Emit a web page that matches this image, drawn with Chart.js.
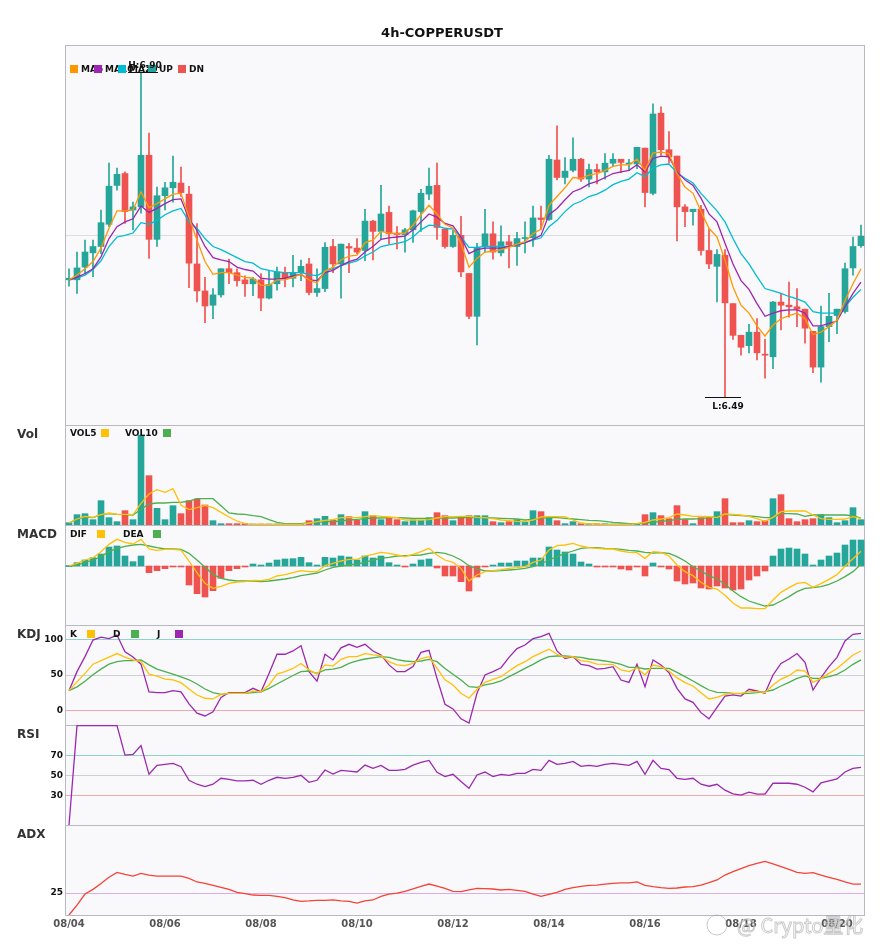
<!DOCTYPE html>
<html>
<head>
<meta charset="utf-8">
<title>4h-COPPERUSDT</title>
<script src="https://cdn.jsdelivr.net/npm/chart.js@4.4.0/dist/chart.umd.min.js"></script>
<style>
  html, body { margin: 0; padding: 0; background: #ffffff; }
  #wrap { position: relative; width: 885px; height: 950px; }
</style>
</head>
<body>
<div id="wrap"><canvas id="kline"></canvas></div>
<script>
// ---- data (4h candles, 08/04 00:00 onwards) ----
const days = ['08/04', '08/05', '08/06', '08/07', '08/08', '08/09', '08/10', '08/11', '08/12',
  '08/13', '08/14', '08/15', '08/16', '08/17', '08/18', '08/19', '08/20'];
const hours = ['00:00', '04:00', '08:00', '12:00', '16:00', '20:00'];

const opens = [
  6.638, 6.638, 6.654, 6.672, 6.680, 6.708, 6.757, 6.772, 6.726, 6.730,
  6.795, 6.689, 6.744, 6.754, 6.760, 6.746, 6.658, 6.624, 6.606, 6.619,
  6.652, 6.647, 6.638, 6.633, 6.638, 6.615, 6.633, 6.647, 6.640, 6.647,
  6.658, 6.622, 6.627, 6.680, 6.658, 6.680, 6.678, 6.675, 6.712, 6.699,
  6.723, 6.697, 6.695, 6.701, 6.724, 6.746, 6.757, 6.702, 6.680, 6.694,
  6.646, 6.592, 6.680, 6.696, 6.672, 6.686, 6.680, 6.690, 6.691, 6.716,
  6.714, 6.789, 6.767, 6.776, 6.790, 6.765, 6.777, 6.774, 6.785, 6.790,
  6.784, 6.784, 6.804, 6.747, 6.848, 6.802, 6.794, 6.730, 6.724, 6.727,
  6.675, 6.655, 6.669, 6.608, 6.568, 6.555, 6.572, 6.544, 6.541, 6.610,
  6.606, 6.604, 6.601, 6.573, 6.528, 6.579, 6.593, 6.598, 6.653, 6.681
];
const highs = [
  6.652, 6.673, 6.688, 6.688, 6.726, 6.785, 6.779, 6.774, 6.736, 6.900,
  6.823, 6.755, 6.761, 6.794, 6.780, 6.756, 6.709, 6.641, 6.627, 6.652,
  6.664, 6.652, 6.643, 6.641, 6.646, 6.650, 6.654, 6.654, 6.669, 6.663,
  6.665, 6.652, 6.685, 6.689, 6.683, 6.684, 6.690, 6.727, 6.713, 6.757,
  6.731, 6.705, 6.703, 6.726, 6.752, 6.779, 6.785, 6.703, 6.700, 6.718,
  6.646, 6.684, 6.727, 6.711, 6.706, 6.694, 6.698, 6.711, 6.731, 6.731,
  6.795, 6.832, 6.792, 6.817, 6.791, 6.784, 6.784, 6.797, 6.797, 6.790,
  6.790, 6.805, 6.804, 6.860, 6.856, 6.825, 6.794, 6.733, 6.727, 6.732,
  6.702, 6.676, 6.676, 6.608, 6.568, 6.582, 6.589, 6.563, 6.611, 6.621,
  6.635, 6.627, 6.601, 6.573, 6.605, 6.621, 6.601, 6.659, 6.692, 6.707
];
const lows = [
  6.630, 6.621, 6.646, 6.642, 6.671, 6.705, 6.751, 6.709, 6.701, 6.722,
  6.665, 6.680, 6.726, 6.736, 6.743, 6.628, 6.610, 6.584, 6.589, 6.616,
  6.633, 6.630, 6.617, 6.618, 6.599, 6.614, 6.625, 6.629, 6.629, 6.637,
  6.619, 6.617, 6.623, 6.647, 6.615, 6.647, 6.671, 6.662, 6.663, 6.689,
  6.683, 6.677, 6.673, 6.685, 6.699, 6.739, 6.689, 6.678, 6.679, 6.642,
  6.589, 6.556, 6.673, 6.664, 6.668, 6.653, 6.656, 6.672, 6.680, 6.702,
  6.713, 6.764, 6.759, 6.774, 6.762, 6.755, 6.759, 6.765, 6.781, 6.773,
  6.776, 6.778, 6.730, 6.745, 6.795, 6.785, 6.687, 6.705, 6.707, 6.669,
  6.652, 6.610, 6.490, 6.563, 6.543, 6.546, 6.537, 6.514, 6.526, 6.575,
  6.591, 6.579, 6.558, 6.521, 6.509, 6.560, 6.570, 6.596, 6.644, 6.679
];
const closes = [
  6.640, 6.653, 6.673, 6.680, 6.710, 6.756, 6.771, 6.724, 6.730, 6.795,
  6.689, 6.744, 6.754, 6.761, 6.748, 6.659, 6.624, 6.605, 6.619, 6.652,
  6.647, 6.637, 6.633, 6.639, 6.615, 6.632, 6.648, 6.640, 6.647, 6.655,
  6.622, 6.627, 6.679, 6.658, 6.683, 6.678, 6.673, 6.712, 6.699, 6.721,
  6.696, 6.695, 6.701, 6.725, 6.747, 6.756, 6.704, 6.680, 6.694, 6.648,
  6.592, 6.679, 6.696, 6.673, 6.686, 6.682, 6.690, 6.691, 6.716, 6.714,
  6.790, 6.767, 6.775, 6.790, 6.765, 6.777, 6.774, 6.785, 6.790, 6.786,
  6.785, 6.805, 6.748, 6.847, 6.802, 6.793, 6.730, 6.724, 6.727, 6.675,
  6.658, 6.670, 6.609, 6.568, 6.553, 6.572, 6.546, 6.543, 6.610, 6.606,
  6.604, 6.601, 6.577, 6.528, 6.579, 6.592, 6.601, 6.652, 6.680, 6.693
];

const ma5 = [
  6.638, 6.644, 6.652, 6.661, 6.678, 6.703, 6.725, 6.725, 6.726, 6.749,
  6.729, 6.734, 6.740, 6.746, 6.747, 6.717, 6.688, 6.661, 6.645, 6.647,
  6.647, 6.644, 6.641, 6.640, 6.631, 6.631, 6.638, 6.638, 6.641, 6.645,
  6.638, 6.634, 6.649, 6.654, 6.663, 6.668, 6.669, 6.685, 6.688, 6.699,
  6.697, 6.696, 6.697, 6.707, 6.720, 6.732, 6.721, 6.708, 6.703, 6.684,
  6.654, 6.665, 6.673, 6.674, 6.676, 6.679, 6.683, 6.686, 6.696, 6.702,
  6.732, 6.743, 6.754, 6.767, 6.766, 6.770, 6.772, 6.776, 6.781, 6.783,
  6.783, 6.790, 6.776, 6.798, 6.799, 6.797, 6.772, 6.755, 6.747, 6.724,
  6.703, 6.692, 6.663, 6.629, 6.606, 6.596, 6.580, 6.567, 6.581, 6.589,
  6.593, 6.596, 6.589, 6.569, 6.572, 6.579, 6.587, 6.612, 6.633, 6.652
];
const ma10 = [
  6.638, 6.641, 6.646, 6.652, 6.667, 6.690, 6.705, 6.711, 6.715, 6.731,
  6.723, 6.728, 6.734, 6.739, 6.740, 6.715, 6.700, 6.680, 6.666, 6.663,
  6.661, 6.654, 6.651, 6.649, 6.640, 6.639, 6.639, 6.640, 6.643, 6.645,
  6.638, 6.637, 6.647, 6.650, 6.656, 6.661, 6.664, 6.673, 6.680, 6.689,
  6.691, 6.692, 6.693, 6.701, 6.711, 6.721, 6.717, 6.709, 6.706, 6.692,
  6.671, 6.676, 6.678, 6.678, 6.678, 6.680, 6.682, 6.685, 6.689, 6.694,
  6.720, 6.728, 6.739, 6.749, 6.753, 6.759, 6.762, 6.767, 6.772, 6.774,
  6.776, 6.783, 6.774, 6.791, 6.794, 6.793, 6.774, 6.764, 6.757, 6.741,
  6.721, 6.711, 6.684, 6.658, 6.637, 6.626, 6.608, 6.592, 6.596, 6.599,
  6.600, 6.600, 6.596, 6.580, 6.580, 6.583, 6.586, 6.604, 6.621, 6.635
];
const ma20 = [
  6.638, 6.640, 6.644, 6.651, 6.662, 6.680, 6.692, 6.694, 6.697, 6.710,
  6.708, 6.713, 6.720, 6.725, 6.728, 6.711, 6.703, 6.690, 6.680, 6.676,
  6.671, 6.666, 6.661, 6.659, 6.652, 6.650, 6.648, 6.647, 6.647, 6.647,
  6.645, 6.643, 6.649, 6.652, 6.656, 6.659, 6.662, 6.668, 6.673, 6.680,
  6.682, 6.684, 6.686, 6.692, 6.701, 6.707, 6.706, 6.703, 6.702, 6.692,
  6.679, 6.679, 6.680, 6.680, 6.680, 6.680, 6.682, 6.685, 6.688, 6.691,
  6.705, 6.713, 6.724, 6.733, 6.737, 6.743, 6.746, 6.751, 6.758, 6.762,
  6.765, 6.773, 6.768, 6.779, 6.783, 6.784, 6.773, 6.766, 6.760, 6.747,
  6.736, 6.725, 6.711, 6.690, 6.671, 6.658, 6.642, 6.627, 6.624, 6.621,
  6.617, 6.614, 6.610, 6.598, 6.596, 6.596, 6.596, 6.604, 6.616, 6.626
];

const volumes = [
  70, 310, 340, 160, 730, 220, 100, 430, 160, 2700,
  1480, 500, 160, 580, 340, 730, 780, 600, 130, 40,
  40, 40, 40, 20, 30, 20, 10, 20, 20, 10,
  130, 190, 260, 150, 310, 250, 140, 400, 280, 160,
  220, 160, 100, 160, 140, 220, 370, 280, 130, 230,
  280, 280, 280, 100, 70, 100, 160, 80, 430, 400,
  220, 130, 40, 100, 40, 40, 40, 40, 30, 30,
  30, 30, 310, 370, 280, 190, 580, 160, 40, 220,
  220, 400, 790, 70, 70, 130, 100, 130, 790, 910,
  190, 100, 160, 190, 310, 220, 70, 130, 520, 160
];
const vol5 = [
  60, 180, 260, 230, 310, 360, 320, 320, 310, 650,
  930, 1060, 980, 1090, 600, 460, 520, 590, 520, 380,
  240, 120, 40, 20, 20, 20, 20, 20, 20, 20,
  60, 100, 140, 160, 220, 220, 220, 250, 280, 260,
  240, 220, 150, 150, 150, 160, 210, 250, 250, 260,
  260, 230, 220, 190, 150, 130, 110, 100, 150, 240,
  250, 250, 250, 150, 60, 30, 30, 20, 20, 20,
  20, 40, 80, 150, 180, 220, 330, 300, 260, 260,
  250, 220, 330, 320, 300, 260, 190, 110, 230, 400,
  420, 420, 420, 300, 190, 170, 170, 180, 250, 190
];
const vol10 = [
  60, 180, 240, 220, 310, 340, 320, 310, 300, 470,
  630, 660, 660, 680, 680, 720, 790, 790, 790, 580,
  360, 330, 320, 280, 250, 160, 80, 40, 40, 40,
  60, 80, 100, 100, 120, 150, 170, 190, 210, 210,
  220, 220, 210, 200, 200, 200, 210, 210, 210, 220,
  220, 220, 220, 210, 200, 190, 180, 150, 170, 200,
  230, 220, 200, 180, 160, 140, 130, 110, 80, 60,
  40, 40, 60, 80, 110, 130, 170, 180, 180, 190,
  220, 250, 320, 300, 280, 270, 250, 220, 220, 340,
  340, 330, 260, 300, 300, 300, 300, 300, 280, 210
];

const macdDif = [
  0.0000, 0.0008, 0.0018, 0.0025, 0.0043, 0.0065, 0.0080, 0.0071, 0.0066, 0.0080,
  0.0051, 0.0047, 0.0050, 0.0050, 0.0048, 0.0015, -0.0020, -0.0052, -0.0067, -0.0061,
  -0.0052, -0.0048, -0.0047, -0.0043, -0.0044, -0.0040, -0.0030, -0.0026, -0.0020, -0.0014,
  -0.0017, -0.0017, 0.0001, 0.0008, 0.0015, 0.0020, 0.0020, 0.0030, 0.0035, 0.0041,
  0.0038, 0.0033, 0.0028, 0.0035, 0.0043, 0.0053, 0.0033, 0.0018, 0.0011, -0.0007,
  -0.0045, -0.0027, -0.0017, -0.0014, -0.0011, -0.0007, -0.0005, -0.0002, 0.0011, 0.0018,
  0.0048, 0.0061, 0.0063, 0.0068, 0.0060, 0.0055, 0.0053, 0.0051, 0.0051, 0.0045,
  0.0041, 0.0040, 0.0023, 0.0043, 0.0041, 0.0030, 0.0003, -0.0017, -0.0029, -0.0049,
  -0.0064, -0.0069, -0.0088, -0.0111, -0.0126, -0.0126, -0.0128, -0.0128, -0.0102, -0.0079,
  -0.0065, -0.0052, -0.0049, -0.0064, -0.0053, -0.0040, -0.0026, -0.0001, 0.0022, 0.0044
];
const macdDea = [
  0.0000, 0.0003, 0.0011, 0.0018, 0.0028, 0.0043, 0.0053, 0.0059, 0.0063, 0.0065,
  0.0060, 0.0055, 0.0051, 0.0051, 0.0050, 0.0038, 0.0018, -0.0004, -0.0025, -0.0037,
  -0.0042, -0.0045, -0.0045, -0.0045, -0.0047, -0.0045, -0.0042, -0.0039, -0.0035, -0.0029,
  -0.0025, -0.0021, -0.0012, -0.0004, 0.0000, 0.0003, 0.0006, 0.0011, 0.0018, 0.0023,
  0.0026, 0.0030, 0.0031, 0.0032, 0.0033, 0.0038, 0.0041, 0.0038, 0.0030, 0.0018,
  0.0001, -0.0009, -0.0015, -0.0015, -0.0014, -0.0012, -0.0010, -0.0007, -0.0002, 0.0006,
  0.0018, 0.0028, 0.0038, 0.0045, 0.0053, 0.0055, 0.0055, 0.0053, 0.0052, 0.0050,
  0.0047, 0.0045, 0.0041, 0.0039, 0.0040, 0.0038, 0.0028, 0.0015, -0.0002, -0.0015,
  -0.0029, -0.0039, -0.0055, -0.0075, -0.0092, -0.0105, -0.0113, -0.0120, -0.0117, -0.0105,
  -0.0092, -0.0077, -0.0067, -0.0065, -0.0062, -0.0055, -0.0045, -0.0032, -0.0017, 0.0005
];
const macdHist = [
  0.0000, 0.0010, 0.0018, 0.0025, 0.0036, 0.0057, 0.0060, 0.0030, 0.0013, 0.0030,
  -0.0020, -0.0014, -0.0008, -0.0003, -0.0003, -0.0057, -0.0083, -0.0093, -0.0074, -0.0037,
  -0.0014, -0.0008, -0.0003, 0.0006, 0.0003, 0.0009, 0.0018, 0.0021, 0.0022, 0.0026,
  0.0010, 0.0003, 0.0026, 0.0024, 0.0030, 0.0027, 0.0018, 0.0030, 0.0024, 0.0030,
  0.0010, 0.0001, -0.0002, 0.0006, 0.0018, 0.0021, -0.0006, -0.0030, -0.0030, -0.0047,
  -0.0075, -0.0033, -0.0001, 0.0003, 0.0009, 0.0009, 0.0015, 0.0015, 0.0024, 0.0024,
  0.0057, 0.0048, 0.0042, 0.0036, 0.0012, 0.0006, -0.0003, -0.0003, -0.0003, -0.0009,
  -0.0012, -0.0002, -0.0030, 0.0009, -0.0001, -0.0009, -0.0045, -0.0054, -0.0051, -0.0066,
  -0.0069, -0.0060, -0.0066, -0.0072, -0.0069, -0.0042, -0.0030, -0.0015, 0.0030, 0.0051,
  0.0054, 0.0051, 0.0036, 0.0003, 0.0018, 0.0030, 0.0039, 0.0063, 0.0078, 0.0078
];

const kdjK = [
  27.7, 40, 52, 65, 70, 75, 80, 75, 71, 68.5,
  51, 48, 44, 43, 39, 30, 21.6, 17, 16, 22.5,
  24, 24, 24, 27, 26, 35.7, 51, 54.5, 59, 66,
  57, 51, 64, 62.4, 71.8, 75.6, 75.6, 79.8, 78, 77,
  68.5, 64, 63, 66, 73, 75.6, 59, 43, 35.7, 24,
  17, 29.6, 39.4, 43.7, 47.4, 55.4, 63, 68.5, 75.6, 81,
  86, 79, 74.6, 75.6, 70, 68.5, 65, 64.8, 64.8, 56.8,
  54.5, 60, 49.8, 63.8, 61.5, 55.4, 46, 39, 34.3, 24.9,
  16, 18.3, 22.5, 24, 24, 26.3, 26.3, 24.9, 35.7, 44,
  48.8, 56.8, 55.4, 39.4, 45, 52, 59, 68.5, 78, 83.6
];
const kdjD = [
  27.7, 33, 41, 50, 58, 65, 68.5, 70, 70, 71,
  64, 58, 54.5, 51, 47, 43, 37, 30, 25, 22.5,
  24, 24, 24, 25, 26, 31, 37, 43, 49, 54.5,
  55.4, 52, 57, 58, 60.6, 66, 69.5, 72.3, 74, 75.6,
  74.6, 71.4, 69.5, 68.5, 69.5, 71.8, 68.5, 59, 50.7, 42.7,
  33.3, 32.4, 35.7, 38, 41.3, 47.4, 53, 59, 64.8, 71,
  75.6, 76.5, 76.5, 75.6, 74.6, 72.3, 71, 69.5, 67.6, 64.8,
  60.6, 60.6, 58.2, 59, 59, 59, 53.5, 47.4, 41.3, 34.7,
  28.6, 25.4, 24.9, 24, 23.5, 24, 24.9, 26.3, 28.6, 34.3,
  39.4, 45, 48.4, 45, 45, 47.4, 50.7, 56.8, 64.8, 71
];
const kdjJ = [
  27.7, 54.5, 75.6, 99, 103, 101, 106, 82.6, 75, 65,
  26, 25, 25, 27.7, 26, 9, -4, -8, -2, 18,
  25, 25, 25, 31, 26, 52, 79, 79, 83.6, 91,
  54.5, 41, 79, 71, 88, 93, 88.7, 93, 83.6, 78,
  64, 54.5, 54.5, 61.5, 81.7, 84.5, 45, 8.5, 1.9, -12,
  -18, 24, 49.8, 54.5, 60, 74.6, 87, 92, 101, 103.8,
  108.5, 83.6, 73, 75.6, 64.8, 63, 58, 59, 61.5, 42.7,
  39.4, 64.8, 33.3, 71, 63.8, 53, 31, 16, 11.3, -3.3,
  -12, 4.2, 20, 21.6, 20, 29.6, 27.2, 24, 49.8, 66,
  72.3, 80, 67.6, 28.6, 46, 61.5, 74.6, 97.7, 107, 108.5
];

const rsi = [
  0, 100, 100, 100, 100, 100, 100, 70.3, 71, 80,
  51, 60, 61, 62, 58.7, 45, 41, 38.7, 41, 47,
  46, 44.3, 44.3, 45, 41, 45, 48, 47, 48, 50,
  43, 45, 55.3, 51.3, 55, 54.3, 53.3, 60.3, 57, 60,
  55, 55, 56, 60.3, 63, 65, 53, 48.7, 51, 43.7,
  37, 50.3, 53.3, 48.7, 51, 50, 52, 52, 56, 55,
  65, 61, 62, 64, 59, 60, 59, 61, 62, 61,
  60, 64, 51, 65, 57, 55.7, 47, 46, 47, 41,
  39, 41, 35, 31.3, 30, 33, 31, 31, 42, 42,
  42, 41, 38, 33.3, 42.3, 44.3, 46.3, 53.3, 57, 58
];
const adx = [
  0, 11, 23.3, 28.5, 35, 41.9, 47.4, 45.2, 43.3, 46.3,
  44.4, 43.3, 43.3, 43.3, 43.3, 40.7, 36.7, 35.2, 33, 30.7,
  28.5, 25.2, 23.7, 22.2, 21.9, 21.9, 20.7, 19.3, 16.7, 15.2,
  15.6, 16.3, 16.3, 16.7, 15.6, 15.2, 13.3, 15.6, 16.7, 20.7,
  23.3, 24.4, 26.3, 28.9, 31.9, 34.4, 32.2, 29.6, 26.3, 25.9,
  27.8, 29.6, 29.3, 28.9, 27.8, 28.5, 27.4, 26.3, 23.3, 20.7,
  23, 25.2, 28.5, 30.4, 31.9, 33, 33.3, 34.4, 35.2, 35.6,
  35.6, 36.7, 33, 31.5, 30.4, 29.6, 30, 31.1, 31.5, 33.3,
  35.9, 38.9, 44.4, 48.1, 51.5, 54.8, 57.4, 59.6, 56.7, 53.7,
  50.7, 47.4, 46.3, 47, 44.4, 41.9, 39.6, 36.7, 34.4, 34.4
];

// ---- styling ----
const UP = '#26a69a', DN = '#ef5350';
const ORANGE = '#ff9800', PURPLE = '#9c27b0', CYAN = '#00bcd4';
const YELLOW = '#ffc107', GREEN = '#4caf50', ADXRED = '#f44336';
const FONT = "'DejaVu Sans', 'Liberation Sans', sans-serif";
const priceMin = 6.455, priceMax = 6.934;

Chart.defaults.font.family = FONT;

const categories = days.flatMap(d => hours.map(h => d + ' ' + h)).slice(0, closes.length);
const candleColors = closes.map((c, i) => (c >= opens[i] ? UP : DN));
const histColors = macdHist.map(v => (v >= 0 ? UP : DN));

function fixWidth(scale) {
    scale.width = 65;
    scale.paddingTop = 0;
    scale.paddingBottom = 0;
}

function panelAxis(stackWeight, weight, min, max, tickValues) {
    const axis = {
        type: 'linear',
        position: 'left',
        stack: 'panels',
        stackWeight: stackWeight,
        weight: weight,
        min: min,
        max: max,
        grid: { display: false, drawTicks: false },
        border: { display: false },
        ticks: { display: false },
        afterFit: fixWidth
    };
    if (tickValues) {
        axis.ticks = { display: true, padding: 2, color: '#111', font: { size: 9, weight: 'bold' } };
        axis.afterBuildTicks = s => { s.ticks = tickValues.map(v => ({ value: v })); };
    }
    return axis;
}

function line(label, data, color, axisId) {
    return {
        type: 'line', label: label, data: data, yAxisID: axisId,
        borderColor: color, borderWidth: 1.3, pointRadius: 0, tension: 0,
        fill: false, order: 0
    };
}

function bars(label, data, colors, axisId, thickness, order) {
    return {
        type: 'bar', label: label, data: data, yAxisID: axisId,
        backgroundColor: colors, barThickness: thickness, grouped: false,
        minBarLength: 1, order: order
    };
}

// reference lines per panel: [axis, value, colour]
const refLines = [
    ['yP', (priceMin + priceMax) / 2, '#dcdce0'],
    ['yM', 0, '#d4d4d8'],
    ['yK', 100, '#8fd4cc'], ['yK', 50, '#cfcfd3'], ['yK', 0, '#f3a9a9'],
    ['yR', 70, '#8fd4cc'], ['yR', 50, '#cfcfd3'], ['yR', 30, '#f3a9a9'],
    ['yA', 25, '#dcaee6']
];

const panelTitles = [['yV', 'Vol'], ['yM', 'MACD'], ['yK', 'KDJ'], ['yR', 'RSI'], ['yA', 'ADX']];

// legend items: text position, box position
const legends = [
    { y: 69, boxFirst: true, items: [
        { text: 'MA5', tx: 81, bx: 70, color: ORANGE },
        { text: 'MA10', tx: 105, bx: 94, color: PURPLE },
        { text: 'MA20', tx: 129, bx: 118, color: CYAN },
        { text: 'UP', tx: 159, bx: 148, color: UP },
        { text: 'DN', tx: 189, bx: 178, color: DN }] },
    { y: 433, items: [
        { text: 'VOL5', tx: 70, bx: 101, color: YELLOW },
        { text: 'VOL10', tx: 125, bx: 163, color: GREEN }] },
    { y: 534, items: [
        { text: 'DIF', tx: 70, bx: 97, color: YELLOW },
        { text: 'DEA', tx: 123, bx: 153, color: GREEN }] },
    { y: 634, items: [
        { text: 'K', tx: 70, bx: 87, color: YELLOW },
        { text: 'D', tx: 113, bx: 131, color: GREEN },
        { text: 'J', tx: 157, bx: 175, color: PURPLE }] }
];

const panelPlugin = {
    id: 'panels',
    beforeDatasetsDraw(chart) {
        const ctx = chart.ctx;
        const a = chart.chartArea;
        ctx.save();
        ctx.fillStyle = '#f9f9fb';
        ctx.fillRect(a.left, a.top, a.right - a.left, a.bottom - a.top);
        ctx.lineWidth = 1;
        refLines.forEach(([id, value, color]) => {
            const y = Math.round(chart.scales[id].getPixelForValue(value)) + 0.5;
            ctx.strokeStyle = color;
            ctx.beginPath();
            ctx.moveTo(a.left, y);
            ctx.lineTo(a.right, y);
            ctx.stroke();
        });
        // panel frames (under the series, as in the original)
        ctx.strokeStyle = '#b9b9c1';
        ['yP', 'yV', 'yM', 'yK', 'yR', 'yA'].forEach(id => {
            const s = chart.scales[id];
            ctx.strokeRect(a.left + 0.5, Math.round(s.top) + 0.5, a.right - a.left - 1, Math.round(s.bottom - s.top));
        });
        ctx.restore();
    },
    afterDatasetsDraw(chart) {
        const ctx = chart.ctx;
        const xs = chart.scales.x;
        const yP = chart.scales.yP;
        ctx.save();

        // legends
        ctx.font = 'bold 9px ' + FONT;
        ctx.textBaseline = 'middle';
        ctx.textAlign = 'left';
        legends.forEach(lg => {
            lg.items.forEach(it => {
                if (lg.boxFirst) {
                    ctx.fillStyle = it.color;
                    ctx.fillRect(it.bx, lg.y - 4, 8, 8);
                    ctx.fillStyle = '#111';
                    ctx.fillText(it.text, it.tx, lg.y + 0.5);
                } else {
                    ctx.fillStyle = '#111';
                    ctx.fillText(it.text, it.tx, lg.y + 0.5);
                    ctx.fillStyle = it.color;
                    ctx.fillRect(it.bx, lg.y - 4, 8, 8);
                }
            });
        });

        // high / low marks
        const hiIdx = highs.indexOf(Math.max(...highs));
        const loIdx = lows.indexOf(Math.min(...lows));
        ctx.strokeStyle = '#111';
        ctx.fillStyle = '#111';
        ctx.lineWidth = 1;
        ctx.textAlign = 'center';
        let x = xs.getPixelForValue(hiIdx);
        let y = Math.round(yP.getPixelForValue(highs[hiIdx])) + 0.5;
        ctx.beginPath(); ctx.moveTo(x - 13, y); ctx.lineTo(x + 17, y); ctx.stroke();
        ctx.textBaseline = 'bottom';
        ctx.fillText('H:' + highs[hiIdx].toFixed(2), x + 4, y - 2);
        x = xs.getPixelForValue(loIdx);
        y = Math.round(yP.getPixelForValue(lows[loIdx])) + 0.5;
        ctx.beginPath(); ctx.moveTo(x - 20, y); ctx.lineTo(x + 16, y); ctx.stroke();
        ctx.textBaseline = 'top';
        ctx.fillText('L:' + lows[loIdx].toFixed(2), x + 3, y + 5);
        ctx.restore();
    },
    afterDraw(chart) {
        const ctx = chart.ctx;
        ctx.save();
        // title
        ctx.fillStyle = '#111';
        ctx.font = 'bold 13px ' + FONT;
        ctx.textAlign = 'center';
        ctx.textBaseline = 'middle';
        ctx.fillText('4h-COPPERUSDT', 442, 34);
        // panel names
        ctx.fillStyle = '#333';
        ctx.font = 'bold 12px ' + FONT;
        ctx.textAlign = 'left';
        panelTitles.forEach(([id, text]) => {
            ctx.fillText(text, 17, chart.scales[id].top + 10);
        });
        // watermark
        ctx.font = '20px "Noto Sans CJK SC", ' + FONT;
        ctx.textBaseline = 'middle';
        ctx.lineWidth = 1;
        ctx.strokeStyle = 'rgba(150,150,150,0.5)';
        ctx.fillStyle = 'rgba(255,255,255,0.55)';
        ctx.fillText('@ Crypto量化', 737, 925);
        ctx.strokeText('@ Crypto量化', 737, 925);
        ctx.beginPath();
        ctx.arc(717, 925, 10, 0, Math.PI * 2);
        ctx.stroke();
        ctx.restore();
    }
};

new Chart(document.getElementById('kline'), {
    type: 'bar',
    data: {
        labels: categories,
        datasets: [
            bars('body', opens.map((o, i) => [o, closes[i]]), candleColors, 'yP', 6, 1),
            bars('wick', lows.map((l, i) => [l, highs[i]]), candleColors, 'yP', 1, 2),
            line('MA5', ma5, ORANGE, 'yP'),
            line('MA10', ma10, PURPLE, 'yP'),
            line('MA20', ma20, CYAN, 'yP'),
            bars('Vol', volumes, candleColors, 'yV', 6, 1),
            line('VOL5', vol5, YELLOW, 'yV'),
            line('VOL10', vol10, GREEN, 'yV'),
            bars('MACD', macdHist, histColors, 'yM', 6, 1),
            line('DIF', macdDif, YELLOW, 'yM'),
            line('DEA', macdDea, GREEN, 'yM'),
            line('K', kdjK, YELLOW, 'yK'),
            line('D', kdjD, GREEN, 'yK'),
            line('J', kdjJ, PURPLE, 'yK'),
            line('RSI', rsi, PURPLE, 'yR'),
            line('ADX', adx, ADXRED, 'yA')
        ]
    },
    options: {
        responsive: true,
        maintainAspectRatio: false,
        animation: false,
        layout: { padding: { left: 0, right: 20, top: 45, bottom: 0 } },
        plugins: {
            legend: { display: false },
            tooltip: { enabled: false },
            title: { display: false }
        },
        scales: {
            x: {
                type: 'category',
                offset: true,
                grid: { display: false, drawTicks: false },
                border: { display: false },
                ticks: {
                    autoSkip: false,
                    maxRotation: 0,
                    padding: 3,
                    color: '#555',
                    font: { size: 10, weight: 'bold' },
                    callback: (v, i) => (i % 12 === 0 ? categories[i].slice(0, 5) : null)
                },
                afterFit: s => { s.height = 35; s.paddingLeft = 0; s.paddingRight = 0; }
            },
            yP: panelAxis(380, 6, priceMin, priceMax),
            yV: panelAxis(100, 5, 0, 3000),
            yM: panelAxis(100, 4, -0.0177, 0.0123),
            yK: panelAxis(100, 3, -20.7, 120.2, [0, 50, 100]),
            yR: panelAxis(100, 2, 0, 100.6, [30, 50, 70]),
            yA: panelAxis(90, 1, 0, 100, [25])
        }
    },
    plugins: [panelPlugin]
});
</script>
</body>
</html>
